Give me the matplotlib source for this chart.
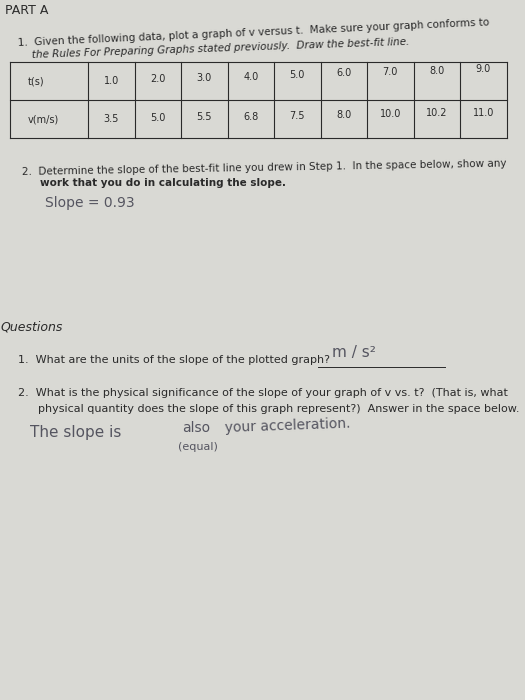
import matplotlib
matplotlib.use("Agg")
import matplotlib.pyplot as plt

t_vals = ["1.0", "2.0", "3.0", "4.0", "5.0", "6.0", "7.0", "8.0", "9.0"]
v_vals = ["3.5", "5.0", "5.5", "6.8", "7.5", "8.0", "10.0", "10.2", "11.0"]
row_labels = ["t(s)", "v(m/s)"]

fig = plt.figure(figsize=(5.25, 7), dpi=100)
fig.patch.set_facecolor("#d9d9d4")
ax = fig.add_axes([0, 0, 1, 1])
ax.set_xlim(0, 525); ax.set_ylim(700, 0); ax.axis("off")
ax.set_facecolor("#d9d9d4")

ink = "#2a2a2a"
ax.text(5, 10, "PART A", fontsize=9, color=ink, va="center")
ax.text(18, 33, "1.  Given the following data, plot a graph of v versus t.  Make sure your graph conforms to",
        fontsize=7.5, color=ink, va="center", rotation=2.5)
ax.text(32, 48, "the Rules For Preparing Graphs stated previously.  Draw the best-fit line.",
        fontsize=7.5, color=ink, va="center", rotation=2, style="italic")

# table
x0, w0, wc = 10, 78, 46.5
ytop, rh = 62, 38
xs = [x0, x0 + w0] + [x0 + w0 + wc * (i + 1) for i in range(len(t_vals))]
for r in range(3):
    ax.plot([xs[0], xs[-1]], [ytop + r * rh - r * 0, ytop + r * rh], color=ink, lw=0.8)
for x in xs:
    ax.plot([x, x], [ytop, ytop + 2 * rh], color=ink, lw=0.8)
for r, (lab, vals) in enumerate(zip(row_labels, [t_vals, v_vals])):
    yc = ytop + rh * r + rh / 2
    ax.text(x0 + 18, yc, lab, fontsize=7, color=ink, va="center")
    for i, val in enumerate(vals):
        ax.text((xs[i + 1] + xs[i + 2]) / 2, yc - (i * 1.5 if r == 0 else i * 0.8), val,
                fontsize=7, color=ink, ha="center", va="center")

ax.text(22, 168, "2.  Determine the slope of the best-fit line you drew in Step 1.  In the space below, show any",
        fontsize=7.5, color=ink, va="center", rotation=1)
ax.text(40, 183, "work that you do in calculating the slope.", fontsize=7.5, color=ink, va="center", weight="bold")
ax.text(45, 203, "Slope = 0.93", fontsize=10, color="#555560", va="center")

ax.text(0, 327, "Questions", fontsize=9, color=ink, va="center", style="italic")
ax.text(18, 360, "1.  What are the units of the slope of the plotted graph?", fontsize=8, color=ink, va="center")
ax.plot([318, 445], [367, 367], color=ink, lw=0.7)
ax.text(332, 352, "m / s²", fontsize=11, color="#555560", va="center")
ax.text(18, 393, "2.  What is the physical significance of the slope of your graph of v vs. t?  (That is, what",
        fontsize=8, color=ink, va="center")
ax.text(38, 409, "physical quantity does the slope of this graph represent?)  Answer in the space below.",
        fontsize=8, color=ink, va="center")
ax.text(30, 433, "The slope is", fontsize=11, color="#555560", va="center")
ax.text(182, 428, "also", fontsize=10, color="#555560", va="center")
ax.text(178, 447, "(equal)", fontsize=8, color="#555560", va="center")
ax.text(225, 426, "your acceleration.", fontsize=10, color="#555560", va="center", rotation=2)

fig.savefig("out.png", dpi=100, facecolor=fig.get_facecolor())
